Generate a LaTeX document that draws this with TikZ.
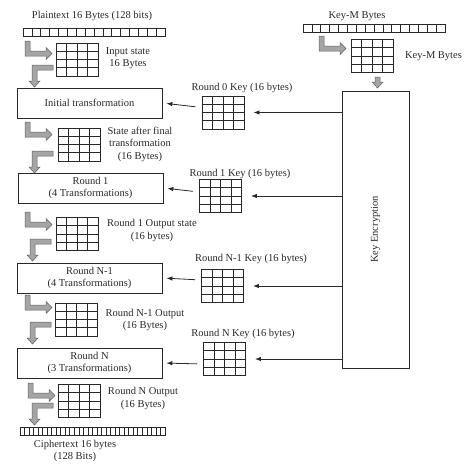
\documentclass[tikz,border=0pt]{standalone}
\usepackage{fontspec}
\setmainfont{Liberation Serif}
\usetikzlibrary{arrows.meta, positioning, calc}
\definecolor{linegray}{RGB}{40,40,40}
\definecolor{fatgray}{RGB}{165,165,165}
\definecolor{fatedge}{RGB}{95,95,95}

\tikzset{
  stategrid/.style={draw=linegray, line width=0.95pt, minimum width=42pt, minimum height=33pt, inner sep=0pt,
    path picture={
      \foreach \i in {1,2,3} {
        \draw[linegray, line width=0.95pt]
          ($(path picture bounding box.south west)!{\i/4}!(path picture bounding box.south east)$) --
          ($(path picture bounding box.north west)!{\i/4}!(path picture bounding box.north east)$);
        \draw[linegray, line width=0.95pt]
          ($(path picture bounding box.south west)!{\i/4}!(path picture bounding box.north west)$) --
          ($(path picture bounding box.south east)!{\i/4}!(path picture bounding box.north east)$);
      }
    }},
  bytestrip/.style 2 args={draw=linegray, line width=0.7pt, minimum width=#1, minimum height=8pt, inner sep=0pt,
    path picture={
      \foreach \i in {1,...,#2} {
        \draw[linegray, line width=0.7pt]
          ($(path picture bounding box.south west)!{\i/(#2+1)}!(path picture bounding box.south east)$) --
          ($(path picture bounding box.north west)!{\i/(#2+1)}!(path picture bounding box.north east)$);
      }
    }},
  stagebox/.style={draw=linegray, line width=0.8pt, minimum width=145pt, minimum height=30pt, align=center, inner sep=2pt, text=linegray},
  lbl/.style={align=center, text=linegray},
  keyin/.style={-{Latex[length=6pt,width=4.5pt]}, linegray, line width=0.8pt},
  fatline/.style={fill=fatgray, draw=fatedge, line width=0.5pt, line join=miter},
  pics/bendright/.style={code={
    \draw[fatline] (0,0) -- (5,0) -- (5,10) -- (21,10) -- (21,6.5) -- (27,12.5) -- (21,18.5) -- (21,15) -- (0,15) -- cycle;}},
  pics/benddown/.style={code={
    \draw[fatline] (0,0) -- (-21,0) -- (-21,16) -- (-24,16) -- (-18.5,22) -- (-13,16) -- (-16,16) -- (-16,5) -- (0,5) -- cycle;}},
  pics/fatdown/.style={code={
    \draw[fatline] (-2.5,0) -- (2.5,0) -- (2.5,5) -- (5.5,5) -- (0,11) -- (-5.5,5) -- (-2.5,5) -- cycle;}}
}

\begin{document}
\begin{tikzpicture}[x=1pt, y=-1pt, font=\fontsize{10.5}{12.5}\selectfont]
  \useasboundingbox (0,0) rectangle (474,474);

  % Plaintext and state path
  \node[lbl] (ptlbl) at (92,16) {Plaintext 16 Bytes (128 bits)};
  \node[bytestrip={142pt}{15}] (pt) at (94,32.5) {};
  \node[stategrid] (s0) at (77,59.5) {};
  \node[lbl] (s0lbl) at (128,58) {Input state\\16 Bytes};

  \node[stagebox] (b0) at (89.5,103) {Initial transformation};
  \node[stategrid] (s1) at (79,144.5) {};
  \node[lbl] (s1lbl) at (140,144) {State after final\\transformation\\(16 Bytes)};

  \node[stagebox] (b1) at (90.5,188) {Round 1\\(4 Transformations)};
  \node[stategrid] (s2) at (77,234) {};
  \node[lbl] (s2lbl) at (152,230.5) {Round 1 Output state\\(16 bytes)};

  \node[stagebox] (b2) at (89.5,278) {Round N-1\\(4 Transformations)};
  \node[stategrid] (s3) at (76.5,319.5) {};
  \node[lbl] (s3lbl) at (145,320) {Round N-1 Output\\(16 Bytes)};

  \node[stagebox] (b3) at (89.5,363) {Round N\\(3 Transformations)};
  \node[stategrid] (s4) at (79,401) {};
  \node[lbl] (s4lbl) at (143,398.5) {Round N Output\\(16 Bytes)};

  \node[bytestrip={145pt}{31}] (ct) at (92.5,431) {};
  \node[lbl] (ctlbl) at (75,451) {Ciphertext 16 bytes\\(128 Bits)};

  % Gray flow arrows
  \pic at (25,41) {bendright};
  \pic at (53,65) {benddown};
  \pic at (25,122) {bendright};
  \pic at (53,151) {benddown};
  \pic at (25,212) {bendright};
  \pic at (51,239) {benddown};
  \pic at (25,295) {bendright};
  \pic at (51,322) {benddown};
  \pic at (28,383) {bendright};
  \pic at (53,403) {benddown};

  % Key side
  \node[lbl] (kmlbl) at (357,16) {Key-M Bytes};
  \node[bytestrip={142pt}{15}] (km) at (374,28) {};
  \node[stategrid] (kg) at (372,56) {};
  \node[lbl, right=8pt of kg] (kglbl) {Key-M Bytes};
  \pic at (319,36) {bendright};
  \pic at (377.5,77) {fatdown};

  \node[draw=linegray, line width=0.8pt, minimum width=67pt, minimum height=277pt] (ke) at (375.5,229.5) {};
  \node[lbl, rotate=90] (kelbl) at (ke.center) {Key Encryption};

  % Round keys
  \node[stategrid] (k0) at (223,112.5) {};
  \node[lbl] (k0lbl) at (242,88) {Round 0 Key (16 bytes)};
  \node[stategrid] (k1) at (220.5,196) {};
  \node[lbl] (k1lbl) at (240,174) {Round 1 Key (16 bytes)};
  \node[stategrid] (k2) at (222.5,286) {};
  \node[lbl] (k2lbl) at (251,259) {Round N-1 Key (16 bytes)};
  \node[stategrid] (k3) at (224.5,359) {};
  \node[lbl] (k3lbl) at (243,334) {Round N Key (16 bytes)};

  \draw[keyin, shorten >=9pt] (ke.west |- k0.east) -- (k0.east);
  \draw[keyin, shorten >=9pt] (ke.west |- k1.east) -- (k1.east);
  \draw[keyin, shorten >=9pt] (ke.west |- k2.east) -- (k2.east);
  \draw[keyin, shorten >=9pt] (ke.west |- k3.east) -- (k3.east);

  \draw[keyin, shorten <=6pt, shorten >=4pt] ([yshift=5pt]k0.west) -- (b0.east);
  \draw[keyin, shorten <=6pt, shorten >=4pt] ([yshift=4pt]k1.west) -- (b1.east);
  \draw[keyin, shorten <=6pt, shorten >=4pt] ([yshift=6pt]k2.west) -- (b2.east);
  \draw[keyin, shorten <=6pt, shorten >=4pt] ([yshift=-5pt]k3.west) -- (b3.east);
\end{tikzpicture}
\end{document}
